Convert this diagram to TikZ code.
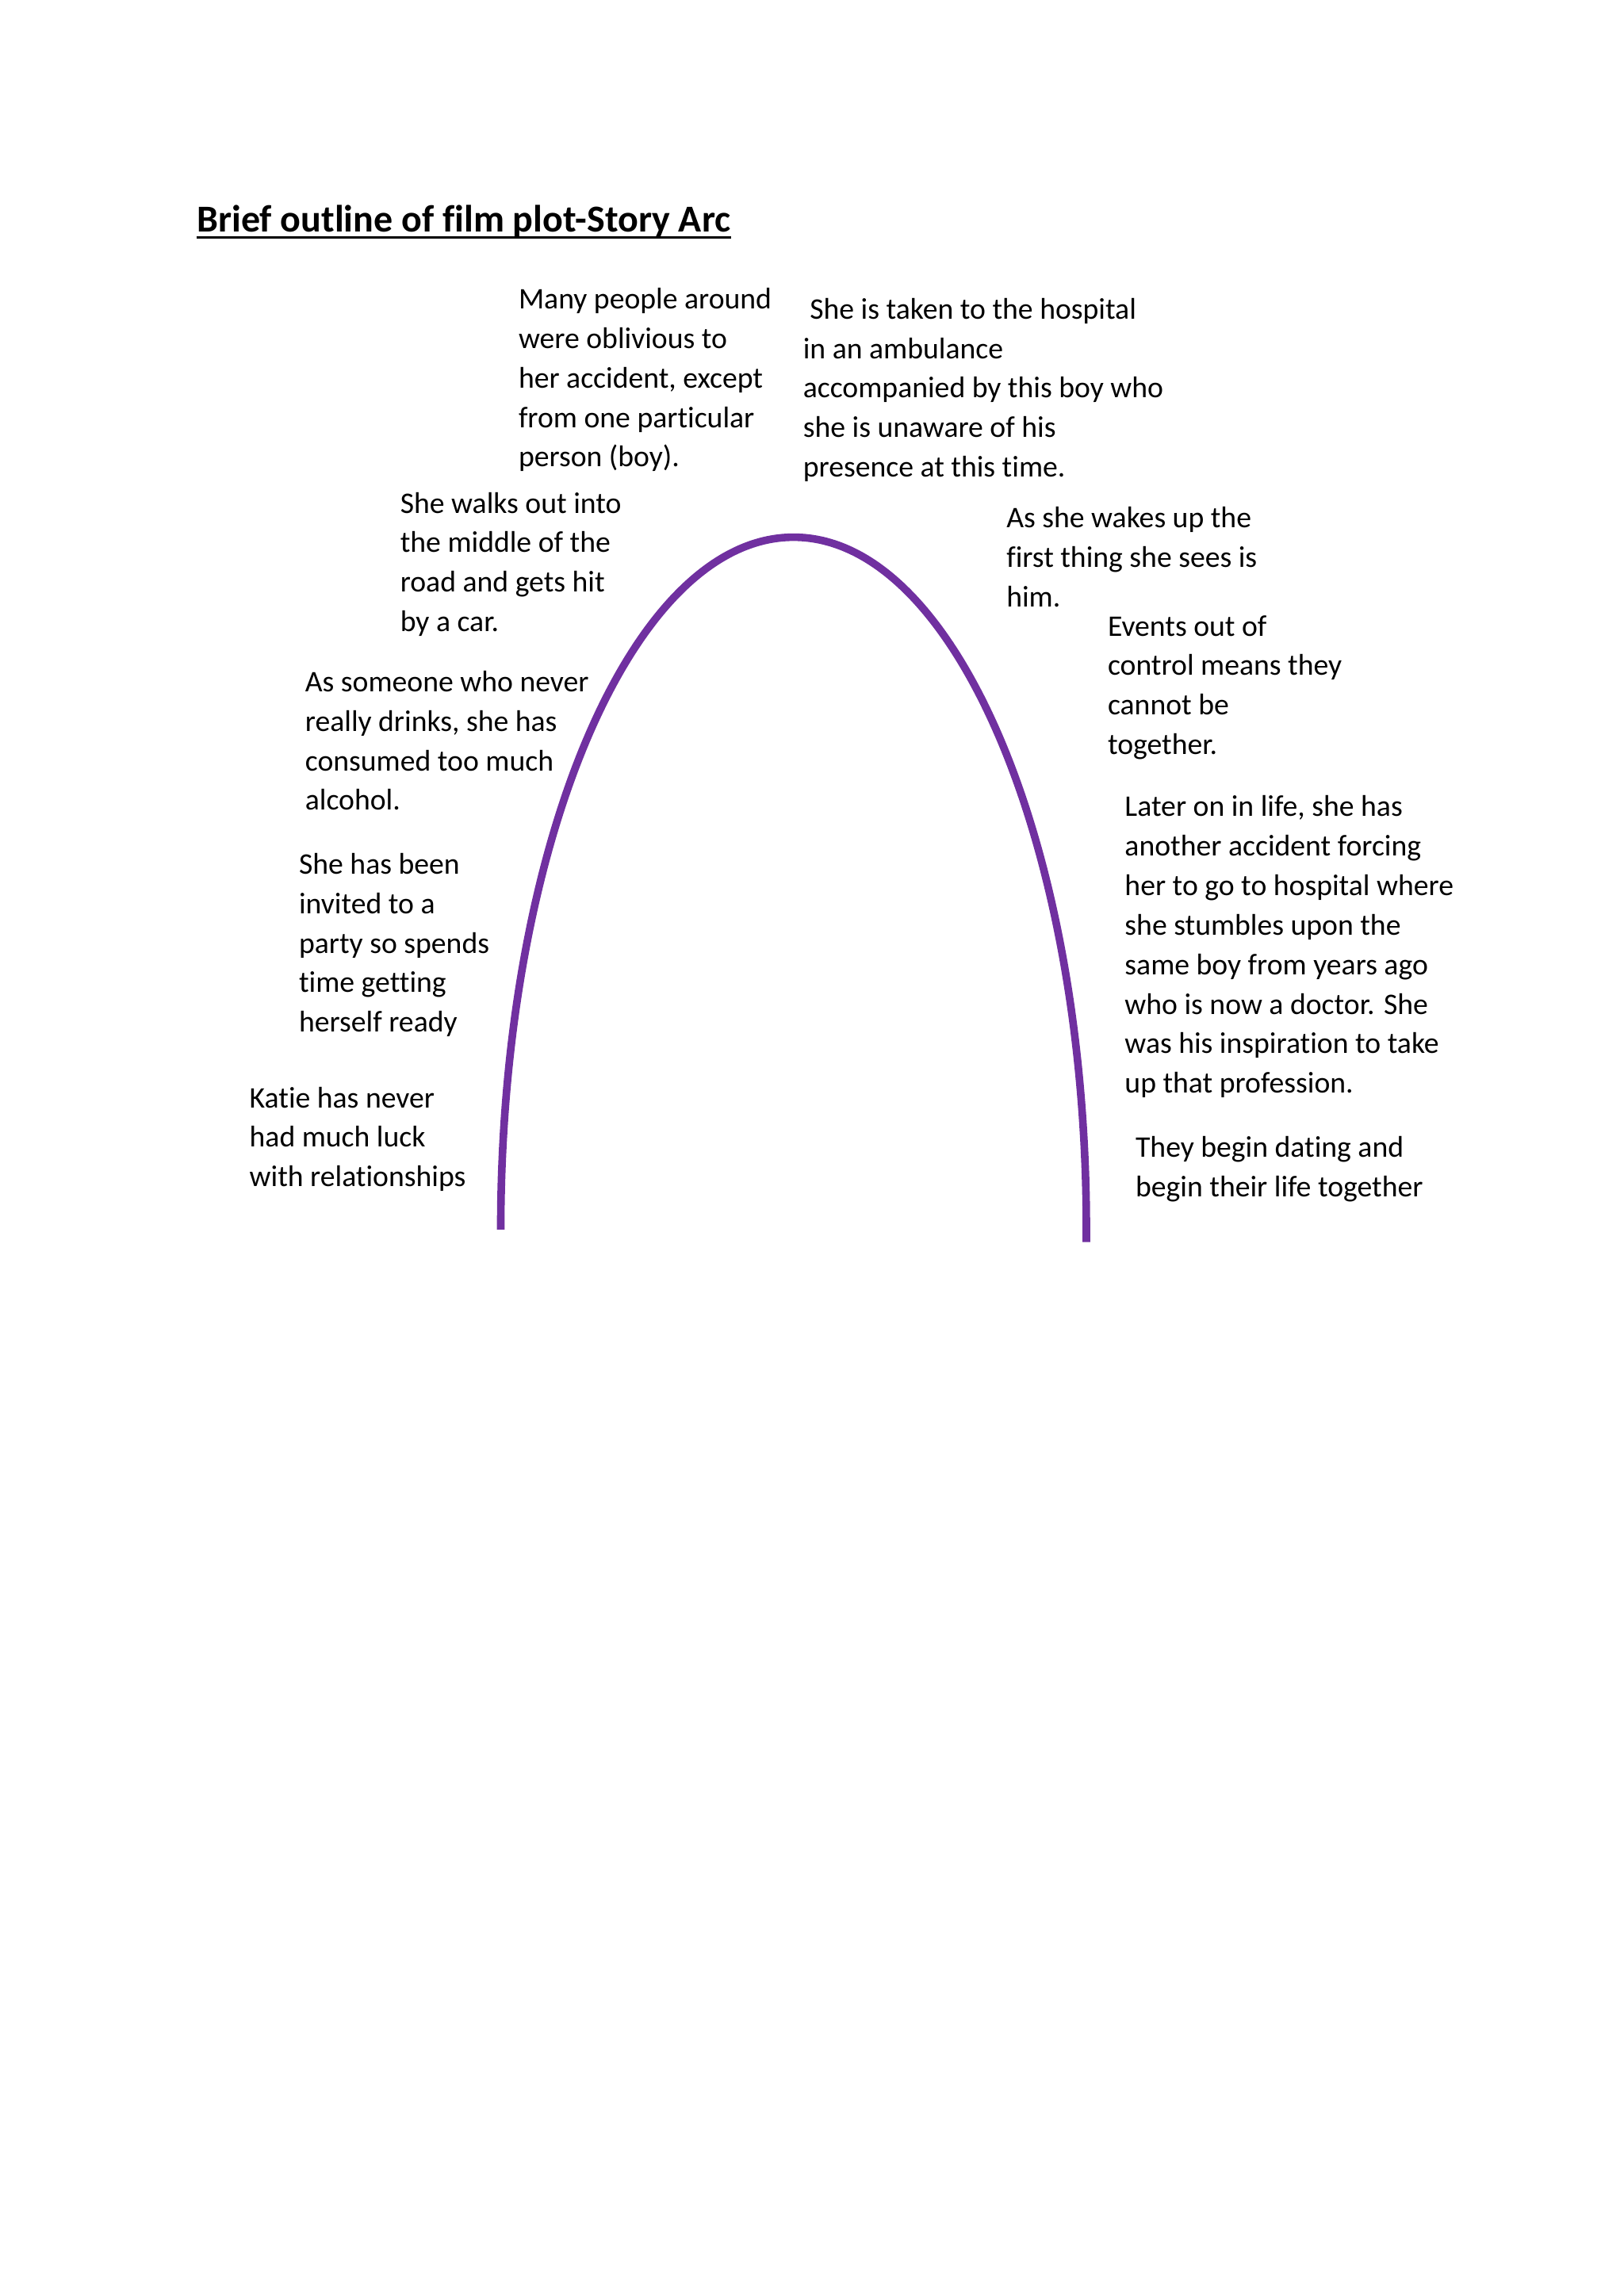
\documentclass[tikz,border=0pt]{standalone}
\usepackage{fontspec}
\setmainfont{Carlito}[Ligatures=NoCommon]
\usepackage{tikz}
\definecolor{arcpurple}{HTML}{7030A0}
\tikzset{
	plot/.style={anchor=base west, inner sep=0pt, align=left, font=\fontsize{11}{14.55}\selectfont},
	storyarc/.style={draw=arcpurple, line width=2.8pt}
}

\begin{document}
\begin{tikzpicture}
			\useasboundingbox (0,0) rectangle (21,-29.7);
			\node[anchor=base west, inner sep=0pt, font=\fontsize{14}{17}\selectfont\bfseries] (title) at (2.54,-3.0) {Brief outline of film plot-Story Arc};
			\draw [line width=0.9pt] ([yshift=-2pt]title.base west) -- ([yshift=-2pt]title.base east);
			\draw [storyarc] (6.476,-15.906) arc[start angle=180, end angle=0, x radius=3.787, y radius=8.957] -- ++(0,-0.16);
			% each text sits on the baseline of its last line
			\node[plot] (oblivious) at (6.70,-6.04) {Many people around\\were oblivious to\\her accident, except\\from one particular\\person (boy).};
			\node[plot] (ambulance) at (10.38,-6.17) {\ She is taken to the hospital\\in an ambulance\\accompanied by this boy who\\she is unaware of his\\presence at this time.};
			\node[plot] (hit) at (5.17,-8.17) {She walks out into\\the middle of the\\road and gets hit\\by a car.};
			\node[plot] (wakes) at (13.01,-7.85) {As she wakes up the\\first thing she sees is\\him.};
			\node[plot] (control) at (14.32,-9.76) {Events out of\\control means they\\cannot be\\together.};
			\node[plot] (alcohol) at (3.94,-10.48) {As someone who never\\really drinks, she has\\consumed too much\\alcohol.};
			\node[plot] (doctor) at (14.54,-14.14) {Later on in life, she has\\another accident forcing\\her to go to hospital where\\she stumbles upon the\\same boy from years ago\\who is now a doctor. She\\was his inspiration to take\\up that profession.};
			\node[plot] (party) at (3.86,-13.35) {She has been\\invited to a\\party so spends\\time getting\\herself ready};
			\node[plot] (katie) at (3.22,-15.35) {Katie has never\\had much luck\\with relationships};
			\node[plot] (dating) at (14.68,-15.48) {They begin dating and\\begin their life together};
		\end{tikzpicture}
\end{document}
